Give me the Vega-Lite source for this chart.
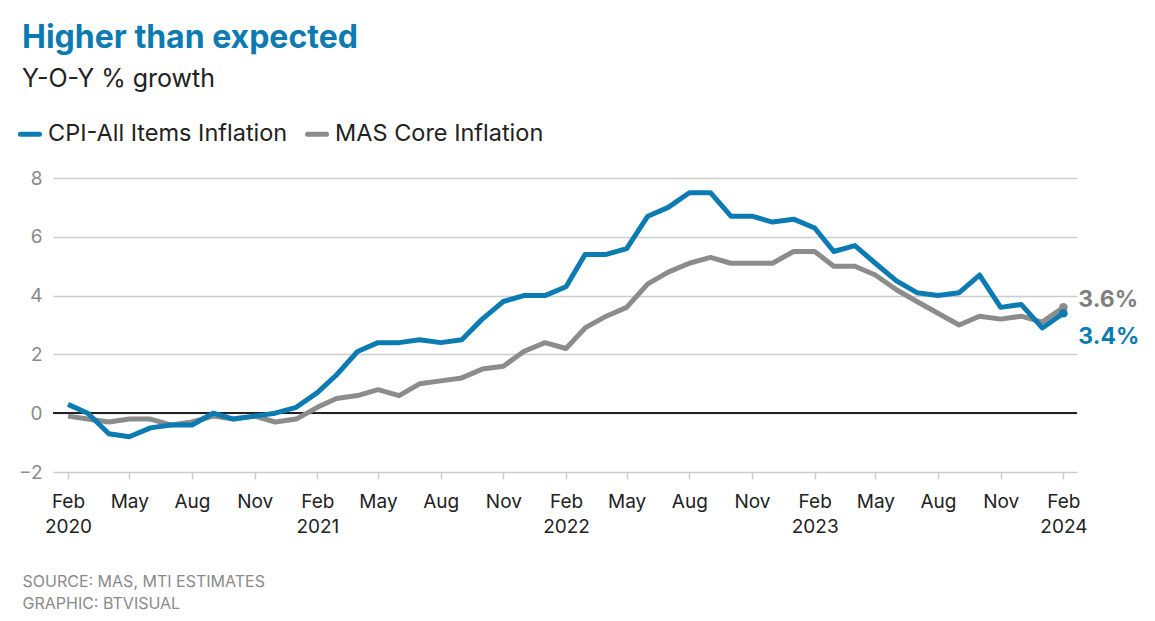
{
  "$schema": "https://vega.github.io/schema/vega-lite/v6.json",
  "width": 1024,
  "height": 294,
  "autosize": "none",
  "padding": {"left": 53, "top": 178, "right": 78, "bottom": 149},
  "background": "#ffffff",
  "config": {
    "view": {"stroke": null},
    "font": "Inter"
  },
  "title": {
    "text": "Higher than expected",
    "subtitle": "Y-O-Y % growth",
    "anchor": "start",
    "frame": "group",
    "font": "Inter",
    "fontSize": 32,
    "fontWeight": "bold",
    "color": "#0b7bb1",
    "subtitleFont": "Inter",
    "subtitleFontSize": 25,
    "subtitleColor": "#222222",
    "subtitlePadding": 12,
    "offset": 29,
    "dx": -31
  },
  "data": {
    "values": [
      {"date": "2020-02-01", "series": "CPI-All Items Inflation", "value": 0.3},
      {"date": "2020-03-01", "series": "CPI-All Items Inflation", "value": 0.0},
      {"date": "2020-04-01", "series": "CPI-All Items Inflation", "value": -0.7},
      {"date": "2020-05-01", "series": "CPI-All Items Inflation", "value": -0.8},
      {"date": "2020-06-01", "series": "CPI-All Items Inflation", "value": -0.5},
      {"date": "2020-07-01", "series": "CPI-All Items Inflation", "value": -0.4},
      {"date": "2020-08-01", "series": "CPI-All Items Inflation", "value": -0.4},
      {"date": "2020-09-01", "series": "CPI-All Items Inflation", "value": 0.0},
      {"date": "2020-10-01", "series": "CPI-All Items Inflation", "value": -0.2},
      {"date": "2020-11-01", "series": "CPI-All Items Inflation", "value": -0.1},
      {"date": "2020-12-01", "series": "CPI-All Items Inflation", "value": 0.0},
      {"date": "2021-01-01", "series": "CPI-All Items Inflation", "value": 0.2},
      {"date": "2021-02-01", "series": "CPI-All Items Inflation", "value": 0.7},
      {"date": "2021-03-01", "series": "CPI-All Items Inflation", "value": 1.3},
      {"date": "2021-04-01", "series": "CPI-All Items Inflation", "value": 2.1},
      {"date": "2021-05-01", "series": "CPI-All Items Inflation", "value": 2.4},
      {"date": "2021-06-01", "series": "CPI-All Items Inflation", "value": 2.4},
      {"date": "2021-07-01", "series": "CPI-All Items Inflation", "value": 2.5},
      {"date": "2021-08-01", "series": "CPI-All Items Inflation", "value": 2.4},
      {"date": "2021-09-01", "series": "CPI-All Items Inflation", "value": 2.5},
      {"date": "2021-10-01", "series": "CPI-All Items Inflation", "value": 3.2},
      {"date": "2021-11-01", "series": "CPI-All Items Inflation", "value": 3.8},
      {"date": "2021-12-01", "series": "CPI-All Items Inflation", "value": 4.0},
      {"date": "2022-01-01", "series": "CPI-All Items Inflation", "value": 4.0},
      {"date": "2022-02-01", "series": "CPI-All Items Inflation", "value": 4.3},
      {"date": "2022-03-01", "series": "CPI-All Items Inflation", "value": 5.4},
      {"date": "2022-04-01", "series": "CPI-All Items Inflation", "value": 5.4},
      {"date": "2022-05-01", "series": "CPI-All Items Inflation", "value": 5.6},
      {"date": "2022-06-01", "series": "CPI-All Items Inflation", "value": 6.7},
      {"date": "2022-07-01", "series": "CPI-All Items Inflation", "value": 7.0},
      {"date": "2022-08-01", "series": "CPI-All Items Inflation", "value": 7.5},
      {"date": "2022-09-01", "series": "CPI-All Items Inflation", "value": 7.5},
      {"date": "2022-10-01", "series": "CPI-All Items Inflation", "value": 6.7},
      {"date": "2022-11-01", "series": "CPI-All Items Inflation", "value": 6.7},
      {"date": "2022-12-01", "series": "CPI-All Items Inflation", "value": 6.5},
      {"date": "2023-01-01", "series": "CPI-All Items Inflation", "value": 6.6},
      {"date": "2023-02-01", "series": "CPI-All Items Inflation", "value": 6.3},
      {"date": "2023-03-01", "series": "CPI-All Items Inflation", "value": 5.5},
      {"date": "2023-04-01", "series": "CPI-All Items Inflation", "value": 5.7},
      {"date": "2023-05-01", "series": "CPI-All Items Inflation", "value": 5.1},
      {"date": "2023-06-01", "series": "CPI-All Items Inflation", "value": 4.5},
      {"date": "2023-07-01", "series": "CPI-All Items Inflation", "value": 4.1},
      {"date": "2023-08-01", "series": "CPI-All Items Inflation", "value": 4.0},
      {"date": "2023-09-01", "series": "CPI-All Items Inflation", "value": 4.1},
      {"date": "2023-10-01", "series": "CPI-All Items Inflation", "value": 4.7},
      {"date": "2023-11-01", "series": "CPI-All Items Inflation", "value": 3.6},
      {"date": "2023-12-01", "series": "CPI-All Items Inflation", "value": 3.7},
      {"date": "2024-01-01", "series": "CPI-All Items Inflation", "value": 2.9},
      {"date": "2024-02-01", "series": "CPI-All Items Inflation", "value": 3.4},
      {"date": "2020-02-01", "series": "MAS Core Inflation", "value": -0.1},
      {"date": "2020-03-01", "series": "MAS Core Inflation", "value": -0.2},
      {"date": "2020-04-01", "series": "MAS Core Inflation", "value": -0.3},
      {"date": "2020-05-01", "series": "MAS Core Inflation", "value": -0.2},
      {"date": "2020-06-01", "series": "MAS Core Inflation", "value": -0.2},
      {"date": "2020-07-01", "series": "MAS Core Inflation", "value": -0.4},
      {"date": "2020-08-01", "series": "MAS Core Inflation", "value": -0.3},
      {"date": "2020-09-01", "series": "MAS Core Inflation", "value": -0.1},
      {"date": "2020-10-01", "series": "MAS Core Inflation", "value": -0.2},
      {"date": "2020-11-01", "series": "MAS Core Inflation", "value": -0.1},
      {"date": "2020-12-01", "series": "MAS Core Inflation", "value": -0.3},
      {"date": "2021-01-01", "series": "MAS Core Inflation", "value": -0.2},
      {"date": "2021-02-01", "series": "MAS Core Inflation", "value": 0.2},
      {"date": "2021-03-01", "series": "MAS Core Inflation", "value": 0.5},
      {"date": "2021-04-01", "series": "MAS Core Inflation", "value": 0.6},
      {"date": "2021-05-01", "series": "MAS Core Inflation", "value": 0.8},
      {"date": "2021-06-01", "series": "MAS Core Inflation", "value": 0.6},
      {"date": "2021-07-01", "series": "MAS Core Inflation", "value": 1.0},
      {"date": "2021-08-01", "series": "MAS Core Inflation", "value": 1.1},
      {"date": "2021-09-01", "series": "MAS Core Inflation", "value": 1.2},
      {"date": "2021-10-01", "series": "MAS Core Inflation", "value": 1.5},
      {"date": "2021-11-01", "series": "MAS Core Inflation", "value": 1.6},
      {"date": "2021-12-01", "series": "MAS Core Inflation", "value": 2.1},
      {"date": "2022-01-01", "series": "MAS Core Inflation", "value": 2.4},
      {"date": "2022-02-01", "series": "MAS Core Inflation", "value": 2.2},
      {"date": "2022-03-01", "series": "MAS Core Inflation", "value": 2.9},
      {"date": "2022-04-01", "series": "MAS Core Inflation", "value": 3.3},
      {"date": "2022-05-01", "series": "MAS Core Inflation", "value": 3.6},
      {"date": "2022-06-01", "series": "MAS Core Inflation", "value": 4.4},
      {"date": "2022-07-01", "series": "MAS Core Inflation", "value": 4.8},
      {"date": "2022-08-01", "series": "MAS Core Inflation", "value": 5.1},
      {"date": "2022-09-01", "series": "MAS Core Inflation", "value": 5.3},
      {"date": "2022-10-01", "series": "MAS Core Inflation", "value": 5.1},
      {"date": "2022-11-01", "series": "MAS Core Inflation", "value": 5.1},
      {"date": "2022-12-01", "series": "MAS Core Inflation", "value": 5.1},
      {"date": "2023-01-01", "series": "MAS Core Inflation", "value": 5.5},
      {"date": "2023-02-01", "series": "MAS Core Inflation", "value": 5.5},
      {"date": "2023-03-01", "series": "MAS Core Inflation", "value": 5.0},
      {"date": "2023-04-01", "series": "MAS Core Inflation", "value": 5.0},
      {"date": "2023-05-01", "series": "MAS Core Inflation", "value": 4.7},
      {"date": "2023-06-01", "series": "MAS Core Inflation", "value": 4.2},
      {"date": "2023-07-01", "series": "MAS Core Inflation", "value": 3.8},
      {"date": "2023-08-01", "series": "MAS Core Inflation", "value": 3.4},
      {"date": "2023-09-01", "series": "MAS Core Inflation", "value": 3.0},
      {"date": "2023-10-01", "series": "MAS Core Inflation", "value": 3.3},
      {"date": "2023-11-01", "series": "MAS Core Inflation", "value": 3.2},
      {"date": "2023-12-01", "series": "MAS Core Inflation", "value": 3.3},
      {"date": "2024-01-01", "series": "MAS Core Inflation", "value": 3.1},
      {"date": "2024-02-01", "series": "MAS Core Inflation", "value": 3.6}
    ]
  },
  "encoding": {
    "x": {
      "field": "date",
      "type": "temporal",
      "scale": {
        "type": "utc",
        "domain": [
          {"year": 2020, "month": 1, "date": 10, "utc": true},
          {"year": 2024, "month": 2, "date": 21, "utc": true}
        ]
      },
      "axis": {
        "values": [
          {"year": 2020, "month": 2, "date": 1, "utc": true},
          {"year": 2020, "month": 5, "date": 1, "utc": true},
          {"year": 2020, "month": 8, "date": 1, "utc": true},
          {"year": 2020, "month": 11, "date": 1, "utc": true},
          {"year": 2021, "month": 2, "date": 1, "utc": true},
          {"year": 2021, "month": 5, "date": 1, "utc": true},
          {"year": 2021, "month": 8, "date": 1, "utc": true},
          {"year": 2021, "month": 11, "date": 1, "utc": true},
          {"year": 2022, "month": 2, "date": 1, "utc": true},
          {"year": 2022, "month": 5, "date": 1, "utc": true},
          {"year": 2022, "month": 8, "date": 1, "utc": true},
          {"year": 2022, "month": 11, "date": 1, "utc": true},
          {"year": 2023, "month": 2, "date": 1, "utc": true},
          {"year": 2023, "month": 5, "date": 1, "utc": true},
          {"year": 2023, "month": 8, "date": 1, "utc": true},
          {"year": 2023, "month": 11, "date": 1, "utc": true},
          {"year": 2024, "month": 2, "date": 1, "utc": true}
        ],
        "labelExpr": "utcmonth(datum.value) == 1 ? [utcFormat(datum.value, '%b'), utcFormat(datum.value, '%Y')] : utcFormat(datum.value, '%b')",
        "grid": false,
        "domain": false,
        "ticks": true,
        "tickColor": "#cccccc",
        "tickWidth": 1.5,
        "tickSize": 7,
        "labelFont": "Inter",
        "labelFontSize": 19,
        "labelColor": "#222222",
        "labelLineHeight": 25,
        "labelPadding": 13,
        "labelFlush": false,
        "labelOverlap": false,
        "labelAlign": "center",
        "title": ["SOURCE: MAS, MTI ESTIMATES", "GRAPHIC: BTVISUAL"],
        "titleFont": "Inter",
        "titleFontSize": 16,
        "titleFontWeight": "normal",
        "titleColor": "#8a8a8a",
        "titleLineHeight": 22,
        "titleAnchor": "start",
        "titleAlign": "left",
        "titleBaseline": "alphabetic",
        "titleX": -31,
        "titleY": 114
      }
    },
    "y": {
      "field": "value",
      "type": "quantitative",
      "scale": {"domain": [-2, 8], "nice": false, "zero": false},
      "axis": {
        "values": [-2, 0, 2, 4, 6, 8],
        "grid": true,
        "gridColor": "#cccccc",
        "gridWidth": 1.5,
        "domain": false,
        "ticks": false,
        "labelFont": "Inter",
        "labelFontSize": 19,
        "labelColor": "#8a8a8a",
        "labelPadding": 11,
        "title": null
      }
    }
  },
  "layer": [
    {
      "mark": {"type": "rule", "color": "#222222", "strokeWidth": 1.2},
      "encoding": {"y": {"datum": 0}, "x": null}
    },
    {
      "transform": [{"filter": "datum.series == 'MAS Core Inflation'"}],
      "mark": {"type": "line", "strokeWidth": 5, "strokeJoin": "round"},
      "encoding": {
        "color": {
          "field": "series",
          "type": "nominal",
          "scale": {
            "domain": ["CPI-All Items Inflation", "MAS Core Inflation"],
            "range": ["#0b7bb1", "#8c8c8c"]
          },
          "legend": {
            "orient": "none",
            "direction": "horizontal",
            "columns": 2,
            "legendX": -35,
            "legendY": -56,
            "title": null,
            "symbolType": "stroke",
            "symbolSize": 361,
            "symbolStrokeWidth": 5,
            "labelFont": "Inter",
            "labelFontSize": 23.5,
            "labelColor": "#222222",
            "labelLimit": 500,
            "labelOffset": 6,
            "columnPadding": 9,
            "encode": {"symbols": {"update": {"strokeCap": {"value": "round"}}}}
          }
        }
      }
    },
    {
      "transform": [{"filter": "datum.series == 'CPI-All Items Inflation'"}],
      "mark": {"type": "line", "strokeWidth": 5, "strokeJoin": "round"},
      "encoding": {
        "color": {"field": "series", "type": "nominal"}
      }
    },
    {
      "transform": [
        {"filter": "datum.series == 'MAS Core Inflation' && utcyear(datum.date) == 2024 && utcmonth(datum.date) == 1"}
      ],
      "mark": {"type": "point", "filled": true, "opacity": 1, "size": 75, "color": "#8c8c8c"}
    },
    {
      "transform": [
        {"filter": "datum.series == 'CPI-All Items Inflation' && utcyear(datum.date) == 2024 && utcmonth(datum.date) == 1"}
      ],
      "mark": {"type": "point", "filled": true, "opacity": 1, "size": 75, "color": "#0b7bb1"}
    },
    {
      "transform": [
        {"filter": "datum.series == 'MAS Core Inflation' && utcyear(datum.date) == 2024 && utcmonth(datum.date) == 1"},
        {"calculate": "format(datum.value, '.1f') + '%'", "as": "label"}
      ],
      "mark": {"type": "text", "align": "left", "baseline": "middle", "dx": 15, "dy": -7, "font": "Inter", "fontSize": 23, "fontWeight": "bold", "color": "#7f7f7f"},
      "encoding": {"text": {"field": "label"}}
    },
    {
      "transform": [
        {"filter": "datum.series == 'CPI-All Items Inflation' && utcyear(datum.date) == 2024 && utcmonth(datum.date) == 1"},
        {"calculate": "format(datum.value, '.1f') + '%'", "as": "label"}
      ],
      "mark": {"type": "text", "align": "left", "baseline": "middle", "dx": 15, "dy": 24, "font": "Inter", "fontSize": 23, "fontWeight": "bold", "color": "#0b7bb1"},
      "encoding": {"text": {"field": "label"}}
    }
  ]
}
